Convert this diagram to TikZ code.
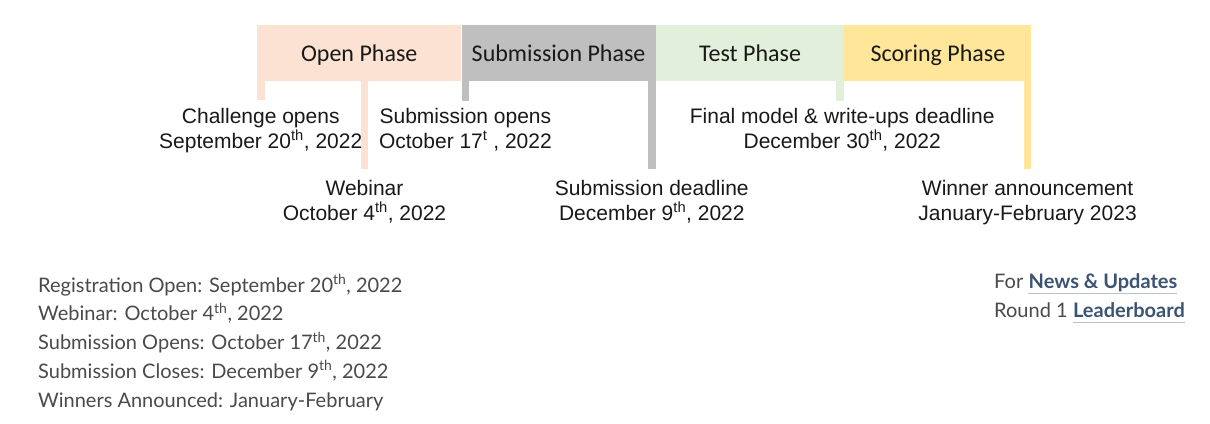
\documentclass[tikz,border=0pt]{standalone}
\usepackage{fontspec}
\setmainfont{Liberation Sans}
\newfontfamily\phasefont{Carlito}
\newfontfamily\notefont{Lato}
\usetikzlibrary{positioning}
\definecolor{openc}{HTML}{FBE2D3}
\definecolor{subc}{HTML}{BFBFBF}
\definecolor{testc}{HTML}{E2EFDA}
\definecolor{scorec}{HTML}{FFE699}
\definecolor{notec}{HTML}{4A4A4A}
\definecolor{linkc}{HTML}{3B5473}
\definecolor{linec}{HTML}{B8C0CC}
\tikzset{
  phase/.style={anchor=north west, minimum height=56pt, inner sep=0pt,
    text height=17pt, text depth=0pt,
    font=\phasefont\fontsize{24}{28}\selectfont, text=black!90},
  event/.style={align=center, inner sep=0pt,
    font=\fontsize{21}{24.5}\selectfont, text=black!90},
  stem/.style={line width=7.5pt},
  note/.style={inner sep=0pt, text=notec, font=\notefont\fontsize{20}{28.75}\selectfont},
  link/.style={note, text=linkc, font=\notefont\bfseries\fontsize{20}{28.75}\selectfont}
}

\begin{document}
\begin{tikzpicture}[x=1pt,y=-1pt]
	\useasboundingbox[fill=white] (0,0) rectangle (1210,423);
	% phase bars
	\node[phase, fill=openc, minimum width=204pt] (open) at (257,25) {Open Phase};
	\node[phase, fill=subc, minimum width=194pt] (sub) at (open.north east) {Submission Phase};
	\node[phase, fill=testc, minimum width=188pt] (test) at (sub.north east) {Test Phase};
	\node[phase, fill=scorec, minimum width=187pt] (score) at (test.north east) {Scoring Phase};
	% stems
	\draw[stem, openc] ([xshift=3.75pt,yshift=1pt]open.south west) -- ++(0,20) coordinate (c1);
	\draw[stem, openc] ([xshift=107.5pt,yshift=1pt]open.south west) -- ++(0,89) coordinate (c2);
	\draw[stem, subc] ([xshift=4pt,yshift=1pt]sub.south west) -- ++(0,21) coordinate (c3);
	\draw[stem, subc] ([xshift=-4pt,yshift=1pt]sub.south east) -- ++(0,89) coordinate (c4);
	\draw[stem, testc] ([xshift=-4pt,yshift=1pt]test.south east) -- ++(0,21) coordinate (c5);
	\draw[stem, scorec] ([xshift=-4pt,yshift=1pt]score.south east) -- ++(0,89) coordinate (c6);
	% events
	\node[event, below=8pt of c1] (challenge) {Challenge opens\\September 20\textsuperscript{th}, 2022};
	\node[event, below=11pt of c2] (webinar) {Webinar\\October 4\textsuperscript{th}, 2022};
	\node[event, below=7pt of c3] (subopen) {Submission opens\\October 17\textsuperscript{t} , 2022};
	\node[event, below=11pt of c4] (deadline) {Submission deadline\\December 9\textsuperscript{th}, 2022};
	\node[event, below=7pt of c5, xshift=2pt] (final) {Final model \& write-ups deadline\\December 30\textsuperscript{th}, 2022};
	\node[event, below=11pt of c6] (winner) {Winner announcement\\January-February 2023};
	% key dates
	\node[note, anchor=north west, align=left] (dates) at (38,274) {Registration Open: September 20\textsuperscript{th}, 2022\\
		Webinar: October 4\textsuperscript{th}, 2022\\
		Submission Opens: October 17\textsuperscript{th}, 2022\\
		Submission Closes: December 9\textsuperscript{th}, 2022\\
		Winners Announced: January-February};
	% links
	\node[note, anchor=base west] (for) at (994,288) {For};
	\node[link, anchor=base west, xshift=5pt] (news) at (for.base east) {News \& Updates};
	\node[note, anchor=base west] (round) at (994,317) {Round 1};
	\node[link, anchor=base west, xshift=5pt] (board) at (round.base east) {Leaderboard};
	\draw[linec, line width=1.2pt] ([yshift=-5.5pt]news.base west) -- ([yshift=-5.5pt]news.base east);
	\draw[linec, line width=1.2pt] ([yshift=-5.5pt]board.base west) -- ([yshift=-5.5pt]board.base east);
\end{tikzpicture}
\end{document}
